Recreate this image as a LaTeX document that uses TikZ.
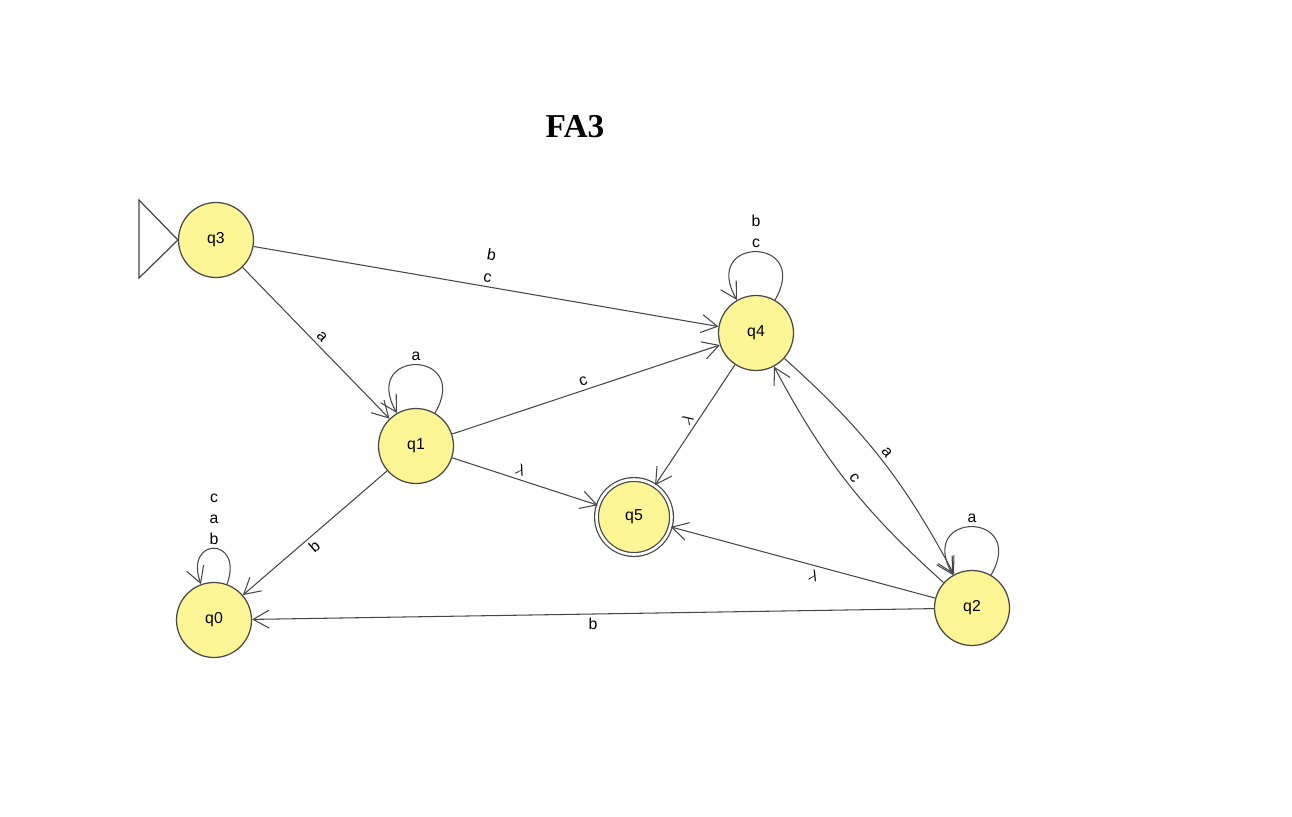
\documentclass[tikz,border=0pt]{standalone}
\usepackage{fontspec}
\setmainfont{Liberation Serif}
\setsansfont{Liberation Sans}
\usetikzlibrary{arrows.meta}
\definecolor{stfill}{RGB}{253,245,150}
\definecolor{stline}{RGB}{70,70,70}
\begin{document}
\begin{tikzpicture}[x=0.02cm,y=-0.02cm,
  st/.style={circle,draw=stline,fill=stfill,line width=0.7pt,minimum size=1.5cm,inner sep=0pt,font=\sffamily\small},
  tr/.style={draw=stline,line width=0.6pt,-{Straight Barb[length=3.2mm,width=3.6mm]}},
  lb/.style={font=\sffamily\small,inner sep=2pt}]
\useasboundingbox (0,0) rectangle (1292,816);
\node[font=\bfseries\fontsize{19}{22}\selectfont] (title) at (575,127) {FA3};
\node[st] (q3) at (216,240) {q3};
\node[st] (q1) at (416,446) {q1};
\node[st] (q4) at (756,333) {q4};
\node[st,double,double distance=1.5pt] (q5) at (634,517) {q5};
\node[st] (q0) at (214,620) {q0};
\node[st] (q2) at (972,608) {q2};
\draw[stline,line width=0.7pt] (139,200) -- (139,278) -- (q3.west) -- cycle;
\draw[tr] (q3) -- node[lb,sloped,above,pos=0.5,align=center]{b\\[2pt]c} (q4);
\draw[tr] (q3) -- node[lb,sloped,above,pos=0.5]{a} (q1);
\draw[tr] (q1) to[out=60,in=120,looseness=5] node[lb,above]{a} (q1);
\draw[tr] (q1) -- node[lb,sloped,above]{c} (q4);
\draw[tr] (q1) -- node[lb,sloped,above,pos=0.45]{$\lambda$} (q5);
\draw[tr] (q1) -- node[lb,sloped,below,pos=0.55]{b} (q0);
\draw[tr] (q0) to[out=70,in=110,looseness=5] node[lb,above,align=center]{c\\[1pt]a\\[1pt]b} (q0);
\draw[tr] (q4) to[out=60,in=120,looseness=5] node[lb,above,align=center]{b\\[1pt]c} (q4);
\draw[tr] (q4) -- node[lb,sloped,above]{$\lambda$} (q5);
\draw[tr] (q4) to[bend left=10] node[lb,sloped,above]{a} (q2);
\draw[tr] (q2) to[bend left=10] node[lb,sloped,above]{c} (q4);
\draw[tr] (q2) to[out=60,in=120,looseness=5] node[lb,above]{a} (q2);
\draw[tr] (q2) -- node[lb,sloped,below,pos=0.45]{$\lambda$} (q5);
\draw[tr] (q2) -- node[lb,below]{b} (q0);
\end{tikzpicture}
\end{document}
